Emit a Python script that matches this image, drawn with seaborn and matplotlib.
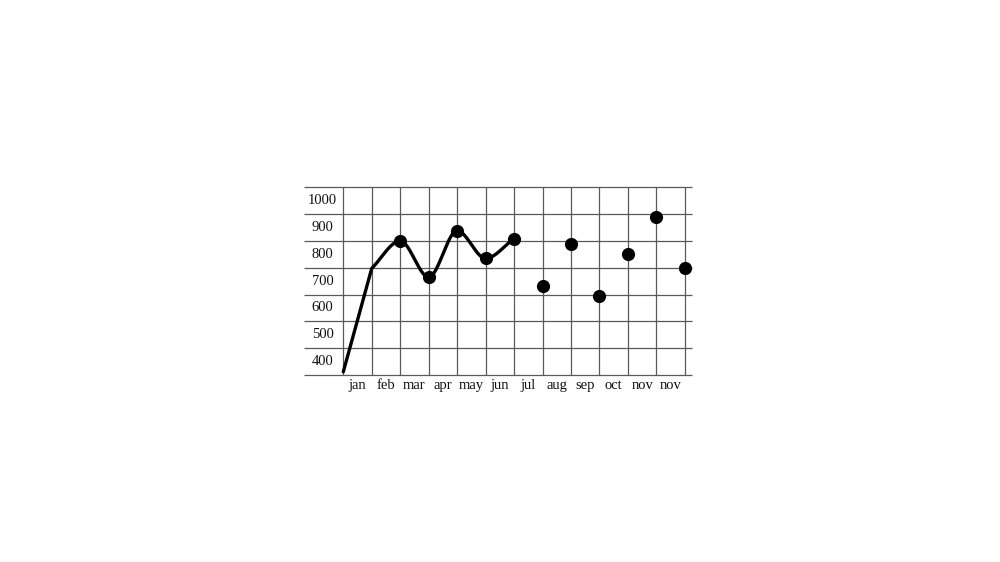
import numpy as np
import pandas as pd
import seaborn as sns
import matplotlib.pyplot as plt

# x labels sit between the grid lines, points sit on the grid lines (0..12)
month_labels = ["jan", "feb", "mar", "apr", "may", "jun", "jul", "aug", "sep", "oct", "nov", "nov"]
y_labels = [400, 500, 600, 700, 800, 900, 1000]

line_pos = [0, 1, 2, 3, 4, 5, 6]
line_vals = [362, 748, 850, 715, 888, 785, 859]

dot_pos = [2, 3, 4, 5, 6, 7, 8, 9, 10, 11, 12]
dot_vals = [850, 715, 888, 785, 859, 683, 838, 644, 800, 941, 750]


def smooth(x, y, n=40):
    # monotone cubic through the points, only for drawing a smooth line
    x = np.asarray(x, float)
    y = np.asarray(y, float)
    h = np.diff(x)
    d = np.diff(y) / h
    m = np.zeros_like(y)
    for i in range(1, len(y) - 1):
        if d[i - 1] * d[i] > 0:
            m[i] = 2 * d[i - 1] * d[i] / (d[i - 1] + d[i])
    m[0] = d[0]
    m[-1] = d[-1]
    xs, ys = [], []
    for i in range(len(x) - 1):
        t = np.linspace(0, 1, n)
        h00 = 2 * t**3 - 3 * t**2 + 1
        h10 = t**3 - 2 * t**2 + t
        h01 = -2 * t**3 + 3 * t**2
        h11 = t**3 - t**2
        xs.extend(x[i] + t * h[i])
        ys.extend(h00 * y[i] + h10 * h[i] * m[i] + h01 * y[i + 1] + h11 * h[i] * m[i + 1])
    return xs, ys


# jan-feb drawn nearly straight, smooth wave from feb on
sx, sy = smooth(line_pos[1:], line_vals[1:])
curve_df = pd.DataFrame({"x": line_pos[:1] + sx, "y": line_vals[:1] + sy})
dots_df = pd.DataFrame({"x": dot_pos, "y": dot_vals})

sns.set_style("white")
plt.rcParams["font.family"] = ["Liberation Serif", "DejaVu Serif"]

fig = plt.figure(figsize=(10, 5.62), dpi=100)
ax = fig.add_axes([0.3043, 0.3327, 0.388, 0.334])

ax.set_xlim(-1.37, 12.26)
ax.set_ylim(350, 1050)

grid_col = "#5a5a5a"
ax.hlines(np.arange(350, 1051, 100), -1.37, 12.26, color=grid_col, lw=0.9, clip_on=False, zorder=1)
ax.vlines(np.arange(0, 13), 350, 1050, color=grid_col, lw=0.9, clip_on=False, zorder=1)

sns.lineplot(data=curve_df, x="x", y="y", sort=False, estimator=None, color="black",
             lw=2.4, ax=ax, zorder=3)
sns.scatterplot(data=dots_df, x="x", y="y", color="black", s=90, linewidth=0,
                ax=ax, zorder=4, clip_on=False)

for v in y_labels:
    ax.text(-0.73, v, str(v), ha="center", va="center", fontsize=10.5, color="#111111")

ax.set_xticks(np.arange(len(month_labels)) + 0.5)
ax.set_xticklabels(month_labels, fontsize=10.5, color="#111111")
ax.tick_params(axis="x", length=0, pad=3)
ax.set_yticks([])
ax.set_xlabel("")
ax.set_ylabel("")
for s in ax.spines.values():
    s.set_visible(False)

fig.savefig("out.png", dpi=100, facecolor="white")
